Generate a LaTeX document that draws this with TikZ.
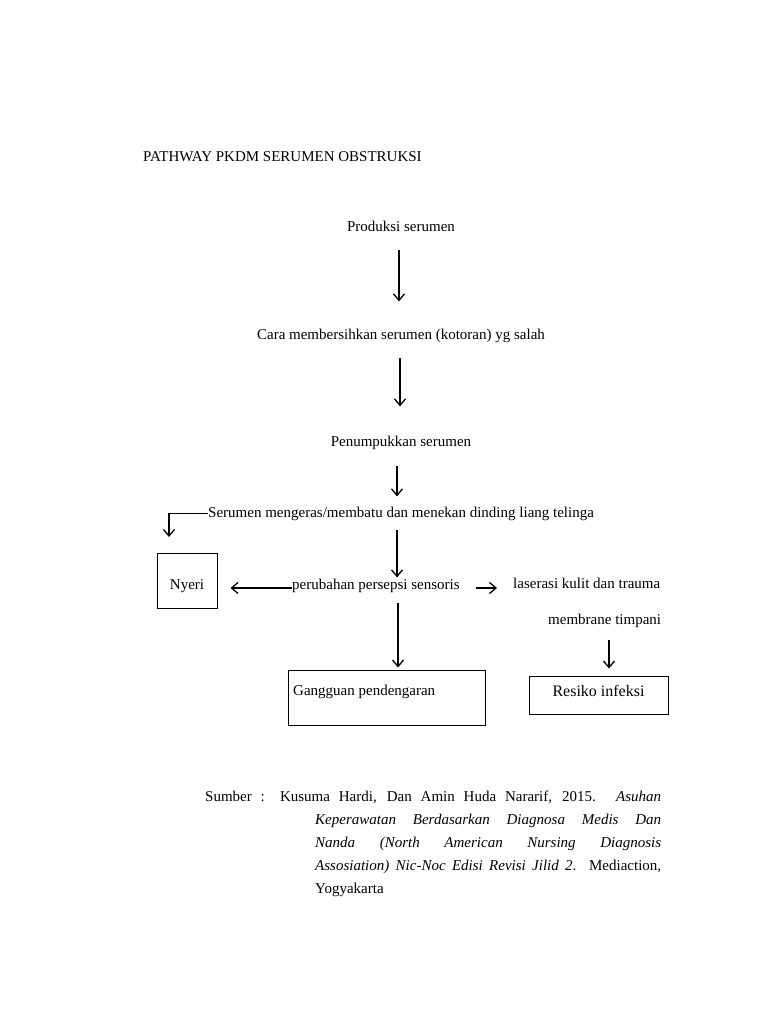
\documentclass[tikz,border=0pt]{standalone}
\usepackage{fontspec}
\setmainfont{Liberation Serif}
\usetikzlibrary{arrows.meta}
\begin{document}
\begin{tikzpicture}[x=1pt,y=-1pt,
  font=\fontsize{15}{23}\selectfont,
  txt/.style={inner sep=0pt, anchor=base west},
  ctxt/.style={inner sep=0pt, anchor=base},
  arr/.style={-{Straight Barb[length=6.5pt,width=11pt]}, line width=1.3pt},
  boxn/.style={draw, line width=1pt, inner sep=0pt}]
\useasboundingbox[fill=white] (0,0) rectangle (768,1024);

\node[txt] (title) at (143,162) {PATHWAY PKDM SERUMEN OBSTRUKSI};
\node[ctxt] (p1) at (401,232) {Produksi serumen};
\node[ctxt] (p2) at (401,339) {Cara membersihkan serumen (kotoran) yg salah};
\node[ctxt] (p3) at (401,446) {Penumpukkan serumen};
\node[txt] (p4) at (208,517) {Serumen mengeras/membatu dan menekan dinding liang telinga};
\node[txt] (p5) at (292,589) {perubahan persepsi sensoris};
\node[txt] (p6) at (513,588) {laserasi kulit dan trauma};
\node[txt] (p7) at (548,624) {membrane timpani};

\node[boxn, minimum width=60pt, minimum height=55pt] (nyeri) at (187,580.5) {};
\node[ctxt] (nyerit) at (187,589) {Nyeri};
\node[boxn, minimum width=197pt, minimum height=55pt] (gg) at (386.5,697.5) {};
\node[txt] (ggt) at (293,695) {Gangguan pendengaran};
\node[boxn, minimum width=139pt, minimum height=38pt] (res) at (598.5,695) {};
\node[ctxt, font=\fontsize{16}{20}\selectfont] (rest) at (598.5,696) {Resiko infeksi};

\coordinate (v1) at (399,0);
\coordinate (v2) at (400,0);
\coordinate (v3) at (397,0);
\coordinate (v4) at (398,0);
\coordinate (v5) at (609,0);
\coordinate (h1) at (0,588);
\coordinate (elb) at (169,537);

\draw[arr, shorten <=18pt, shorten >=27pt] (p1.south -| v1) -- (p2.north -| v1);
\draw[arr, shorten <=16pt, shorten >=29pt] (p2.south -| v2) -- (p3.north -| v2);
\draw[arr, shorten <=17pt, shorten >=10pt] (p3.south -| v3) -- (p4.north -| v3);
\draw[arr] (p4.west) -| (elb);
\draw[arr, shorten <=10pt, shorten >=1pt] (p4.south -| v3) -- (p5.north -| v3);
\draw[arr, shorten >=13pt] (p5.west |- h1) -- (nyeri.east |- h1);
\draw[arr, shorten <=16pt, shorten >=16pt] (p5.east |- h1) -- (p6.west |- h1);
\draw[arr, shorten <=11pt, shorten >=2pt] (p5.south -| v4) -- (gg.north -| v4);
\draw[arr, shorten <=13pt, shorten >=7pt] (p7.south -| v5) -- (res.north -| v5);

\node[inner sep=0pt, anchor=north west, text width=456pt, align=justify] (src) at (205,791)
{\hangindent=110pt \hangafter=1 Sumber : Kusuma Hardi, Dan Amin Huda Nararif, 2015. \textit{Asuhan}\linebreak
\textit{Keperawatan Berdasarkan Diagnosa Medis Dan}\linebreak
\textit{Nanda (North American Nursing Diagnosis}\linebreak
\textit{Assosiation) Nic-Noc Edisi Revisi Jilid 2}. Mediaction,\linebreak
Yogyakarta\par};
\end{tikzpicture}
\end{document}
